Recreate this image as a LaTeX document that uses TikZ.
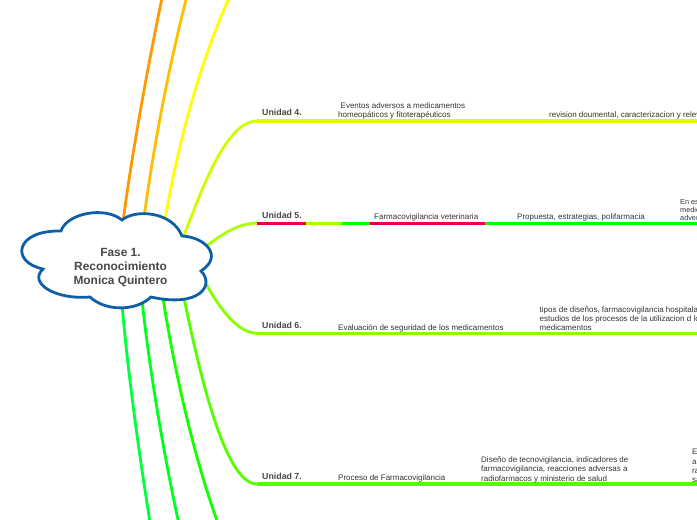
\documentclass[tikz,border=0pt]{standalone}
\usepackage{fontspec}
\setmainfont{Liberation Sans}
\definecolor{inkgray}{HTML}{484848}
\definecolor{txtgray}{HTML}{333333}
\definecolor{cloudblue}{HTML}{0F5FA8}
\definecolor{alert}{HTML}{E6004C}
\definecolor{c1}{HTML}{FF9900}
\definecolor{c2}{HTML}{FFBF00}
\definecolor{c3}{HTML}{FFFF00}
\definecolor{c4}{HTML}{CCFF00}
\definecolor{c4h}{HTML}{DDFF00}
\definecolor{c5}{HTML}{AAFF00}
\definecolor{c6}{HTML}{88FF00}
\definecolor{c7}{HTML}{55FF00}
\definecolor{c8}{HTML}{14FF00}
\definecolor{c9}{HTML}{00FF1E}
\definecolor{c10}{HTML}{00FF3C}
\definecolor{pure}{HTML}{00FF00}
\tikzset{
  branch/.style={line width=2.8pt,line cap=butt},
  rail/.style={line width=3.2pt,line cap=butt},
  unitlabel/.style={anchor=base west,inner sep=0pt,font=\fontsize{8.8}{10}\selectfont\bfseries,text=inkgray},
  leaf/.style={anchor=base west,inner sep=0pt,font=\fontsize{8}{9.3}\selectfont,text=txtgray,align=left},
  stack/.style={anchor=south west,inner sep=0pt,font=\fontsize{8}{9.3}\selectfont,text=txtgray,align=left},
  tiny/.style={anchor=south west,inner sep=0pt,font=\fontsize{7.3}{8.2}\selectfont,text=txtgray,align=left},
}
\begin{document}
\begin{tikzpicture}[x=1pt,y=-1pt]
\clip (0,0) rectangle (697,520);
% anchors on the cloud
\coordinate (o1) at (123,222);
\coordinate (o2) at (144,218);
\coordinate (o3) at (165,220);
\coordinate (o4) at (183,238);
\coordinate (o5) at (205,247);
\coordinate (o6) at (204,280);
\coordinate (o7) at (184,298);
\coordinate (o8) at (163,298);
\coordinate (o9) at (142,300);
\coordinate (o10) at (122,304);
% free ends
\coordinate (e1) at (162,-2);
\coordinate (e2) at (186.5,-2);
\coordinate (e3) at (229,-2);
\coordinate (e8) at (217.5,522);
\coordinate (e9) at (178.5,522);
\coordinate (e10) at (150,522);
\coordinate (k4) at (257,121);
\coordinate (r4) at (699,121);
\coordinate (k5) at (257,223.3);
\coordinate (a5) at (306,223.3);
\coordinate (b5) at (342,223.3);
\coordinate (c5) at (370,223.3);
\coordinate (d5) at (485,223.3);
\coordinate (r5) at (699,223.3);
\coordinate (k6) at (257,333.3);
\coordinate (r6) at (699,333.3);
\coordinate (k7) at (257,484);
\coordinate (r7) at (699,484);
% branches
\draw[branch,color=c1] (o1) .. controls (131,160) and (147,70) .. (e1);
\draw[branch,color=c2] (o2) .. controls (153,150) and (168,70) .. (e2);
\draw[branch,color=c3] (o3) .. controls (177,150) and (197,70) .. (e3);
\draw[branch,color=c4] (o4) .. controls (200,195) and (225,121) .. (k4);
\draw[rail,color=c4h] (k4) -- (r4);
\draw[branch,color=c5] (o5) .. controls (225,232) and (240,223) .. (k5);
\draw[rail,color=alert] (k5) -- (a5);
\draw[rail,color=c5] (a5) -- (b5);
\draw[rail,color=pure] (b5) -- (c5);
\draw[rail,color=alert] (c5) -- (d5);
\draw[rail,color=pure] (d5) -- (r5);
\draw[branch,color=c6] (o6) .. controls (220,310) and (238,333) .. (k6);
\draw[rail,color=c6] (k6) -- (r6);
\draw[branch,color=c7] (o7) .. controls (200,375) and (225,484) .. (k7);
\draw[rail,color=c7] (k7) -- (r7);
\draw[branch,color=c8] (o8) .. controls (175,375) and (195,460) .. (e8);
\draw[branch,color=c9] (o9) .. controls (150,375) and (165,460) .. (e9);
\draw[branch,color=c10] (o10) .. controls (128,375) and (140,460) .. (e10);
% cloud
\draw[line width=2.8pt,cloudblue,fill=white,line join=miter]
 (61,231) .. controls (67,213) and (105,206) .. (122,220)
 .. controls (135,209) and (172,211) .. (182,236)
 .. controls (205,237) and (224,256) .. (201,271)
 .. controls (215,285) and (200,308) .. (151,297)
 .. controls (135,312) and (105,311) .. (90,297)
 .. controls (55,300) and (28,283) .. (43,269)
 .. controls (10,262) and (15,230) .. (61,231) -- cycle;
\node[anchor=center,inner sep=0pt,align=center,font=\fontsize{11.9}{14}\selectfont\bfseries,text=inkgray] (root) at (120.5,268) {Fase 1.\\Reconocimiento\\Monica Quintero};
% unit labels
\node[unitlabel] (u4) at (262,115) {Unidad 4.};
\node[unitlabel] (u5) at (262,218) {Unidad 5.};
\node[unitlabel] (u6) at (262,328) {Unidad 6.};
\node[unitlabel] (u7) at (262,479) {Unidad 7.};
% leaves
\node[stack] (l41) at (338,119.5) {\hspace*{2.5pt}Eventos adversos a medicamentos\\homeopáticos y fitoterapéuticos};
\node[leaf] (l42) at (549,117) {revision doumental, caracterizacion y relev};
\node[leaf] (l51) at (374,219) {Farmacovigilancia veterinaria};
\node[leaf] (l52) at (517,219) {Propuesta, estrategias, polifarmacia};
\node[tiny] (l53) at (680,221) {En es\\medic\\adver};
\node[leaf] (l61) at (338,330) {Evaluación de seguridad de los medicamentos};
\node[stack] (l62) at (539.5,331) {tipos de diseños, farmacovigilancia hospitala\\estudios de los procesos de la utilizacion d lo\\medicamentos};
\node[leaf] (l71) at (338,480.5) {Proceso de Farmacovigilancia};
\node[stack] (l72) at (481,483) {Diseño de tecnovigilancia, indicadores de\\farmacovigilancia, reacciones adversas a\\radiofarmacos y ministerio de salud};
\node[stack] (l73) at (692,483) {E\\a\\ra\\sa};
\end{tikzpicture}
\end{document}
